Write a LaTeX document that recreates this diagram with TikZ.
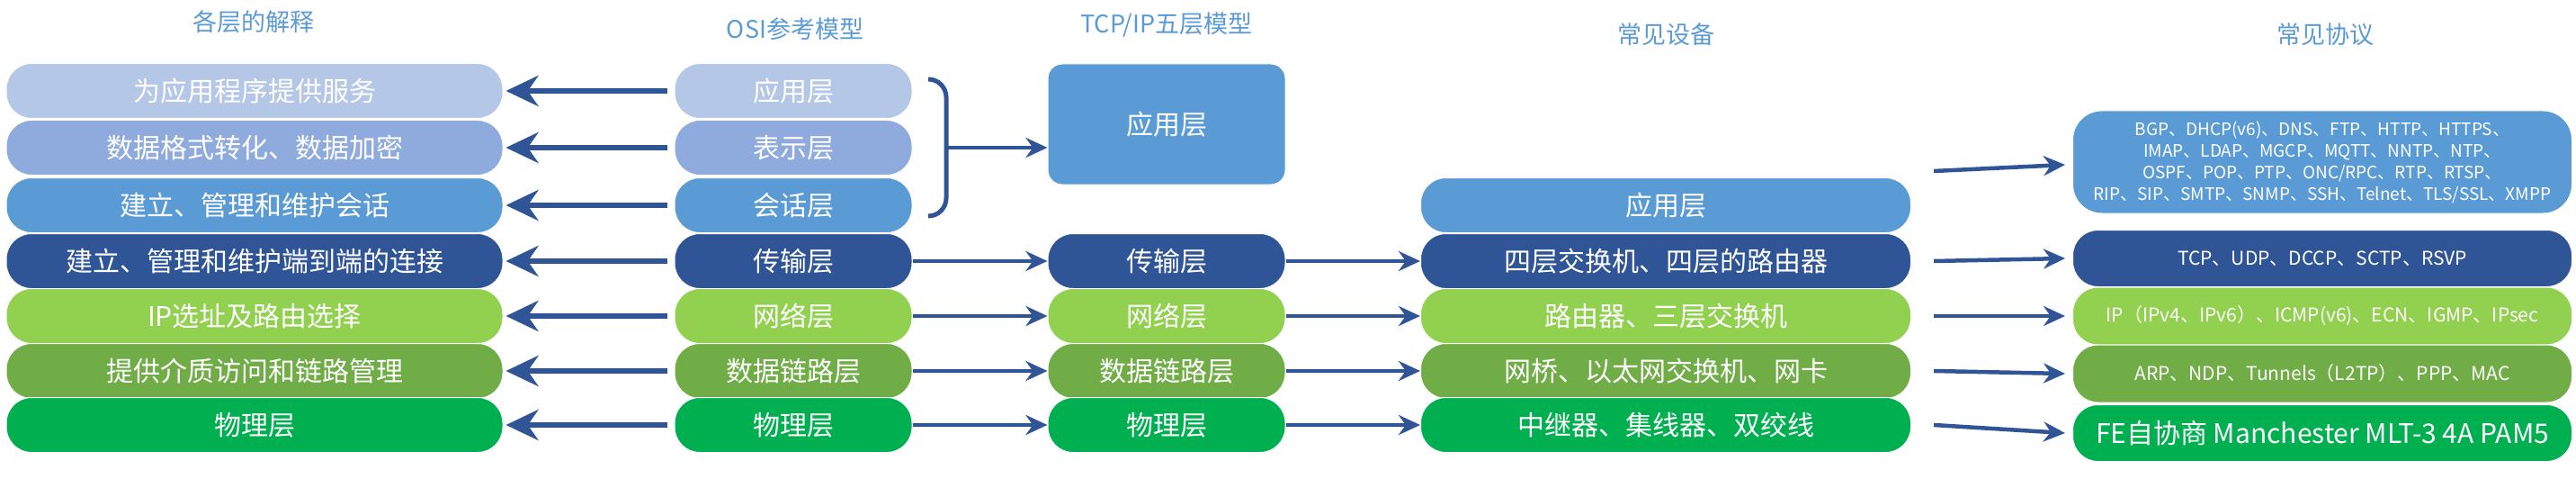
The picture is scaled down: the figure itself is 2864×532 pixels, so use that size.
\documentclass[tikz,border=0pt]{standalone}
\usepackage{fontspec}
\setmainfont{Noto Sans CJK SC}
\usetikzlibrary{arrows.meta}
\definecolor{cA}{HTML}{B4C7E7}
\definecolor{cB}{HTML}{8FAADC}
\definecolor{cC}{HTML}{5B9BD5}
\definecolor{cD}{HTML}{2F5597}
\definecolor{cE}{HTML}{92D050}
\definecolor{cF}{HTML}{70AD47}
\definecolor{cG}{HTML}{00B050}
\definecolor{arr}{HTML}{2F5597}
\tikzset{
 box/.style={rectangle,rounded corners=28pt,text=white,font=\fontsize{30}{34}\selectfont,inner sep=0pt,minimum height=61pt,align=center,draw=white,line width=1pt},
 lbox/.style={box,minimum width=552pt},
 obox/.style={box,minimum width=264pt},
 dbox/.style={box,minimum width=545pt},
 pbox/.style={box,minimum width=555pt,font=\fontsize{21}{25}\selectfont},
 ttl/.style={text=cC,font=\fontsize{27}{30}\selectfont},
 bigarr/.style={line width=6pt,draw=arr,-{Stealth[length=36pt,width=34pt]}},
 arr/.style={line width=4.5pt,draw=arr,-{Stealth[length=24pt,width=22pt]}},
}
\begin{document}
\begin{tikzpicture}[x=1pt,y=-1pt]
\useasboundingbox (0,0) rectangle (2864,532);
% titles
\node[ttl] (t1) at (282,24) {各层的解释};
\node[ttl] (t2) at (884,32) {OSI参考模型};
\node[ttl] (t3) at (1297,28) {TCP/IP五层模型};
\node[ttl] (t4) at (1852,38) {常见设备};
\node[ttl] (t5) at (2585,38) {常见协议};
% left column
\node[lbox,fill=cA] (l1) at (283,101) {为应用程序提供服务};
\node[lbox,fill=cB] (l2) at (283,164) {数据格式转化、数据加密};
\node[lbox,fill=cC] (l3) at (283,228) {建立、管理和维护会话};
\node[lbox,fill=cD] (l4) at (283,290) {建立、管理和维护端到端的连接};
\node[lbox,fill=cE] (l5) at (283,351) {IP选址及路由选择};
\node[lbox,fill=cF] (l6) at (283,412) {提供介质访问和链路管理};
\node[lbox,fill=cG] (l7) at (283,472) {物理层};
% OSI column
\node[obox,fill=cA] (o1) at (882,101) {应用层};
\node[obox,fill=cB] (o2) at (882,164) {表示层};
\node[obox,fill=cC] (o3) at (882,228) {会话层};
\node[obox,fill=cD] (o4) at (882,290) {传输层};
\node[obox,fill=cE] (o5) at (882,351) {网络层};
\node[obox,fill=cF] (o6) at (882,412) {数据链路层};
\node[obox,fill=cG] (o7) at (882,472) {物理层};
% TCP/IP column
\node[obox,fill=cC,minimum height=134pt,rounded corners=16pt] (p1) at (1297,138) {应用层};
\node[obox,fill=cD] (p4) at (1297,290) {传输层};
\node[obox,fill=cE] (p5) at (1297,351) {网络层};
\node[obox,fill=cF] (p6) at (1297,412) {数据链路层};
\node[obox,fill=cG] (p7) at (1297,472) {物理层};
% devices column
\node[dbox,fill=cC] (d3) at (1852,228) {应用层};
\node[dbox,fill=cD] (d4) at (1852,290) {四层交换机、四层的路由器};
\node[dbox,fill=cE] (d5) at (1852,351) {路由器、三层交换机};
\node[dbox,fill=cF] (d6) at (1852,412) {网桥、以太网交换机、网卡};
\node[dbox,fill=cG] (d7) at (1852,472) {中继器、集线器、双绞线};
% protocols column
\node[pbox,fill=cC,minimum height=114pt,rounded corners=32pt,font=\fontsize{19}{24}\selectfont] (r1) at (2582,180) {BGP、DHCP(v6)、DNS、FTP、HTTP、HTTPS、\\IMAP、LDAP、MGCP、MQTT、NNTP、NTP、\\OSPF、POP、PTP、ONC/RPC、RTP、RTSP、\\RIP、SIP、SMTP、SNMP、SSH、Telnet、TLS/SSL、XMPP};
\node[pbox,fill=cD,minimum height=63pt] (r4) at (2582,287) {TCP、UDP、DCCP、SCTP、RSVP};
\node[pbox,fill=cE,minimum height=64pt] (r5) at (2582,351) {IP（IPv4、IPv6）、ICMP(v6)、ECN、IGMP、IPsec};
\node[pbox,fill=cF,minimum height=64pt] (r6) at (2582,415) {ARP、NDP、Tunnels（L2TP）、PPP、MAC};
\node[pbox,fill=cG,minimum height=63pt,font=\fontsize{30}{34}\selectfont] (r7) at (2582,481) {FE自协商 Manchester MLT-3 4A PAM5};
% arrows OSI -> explanation
\foreach \i in {1,...,7}{\draw[bigarr] (o\i.west) ++(-8,0) -- ([xshift=3pt]l\i.east);}
% brace
\coordinate (b1) at (1032,88);
\coordinate (b2) at (1032,240);
\coordinate (bm) at (1052,164);
\draw[arr,line width=5pt,-] (b1) to[out=0,in=90] (1052,108) -- (1052,220) to[out=-90,in=0] (b2);
\draw[arr] (bm) -- (bm -| p1.west);
% OSI -> TCP/IP
\foreach \i in {4,...,7}{\draw[arr] (o\i.east) -- (p\i.west);}
% TCP/IP -> devices
\foreach \i in {4,...,7}{\draw[arr] (p\i.east) -- (d\i.west);}
% devices -> protocols
\coordinate (a1) at (2150,190);
\draw[arr] (a1) -- ([xshift=-8pt]r1.west |- 0,183);
\foreach \i in {4,...,7}{\draw[arr] ([xshift=25pt]d\i.east) -- ([xshift=-8pt]r\i.west);}
\end{tikzpicture}
\end{document}
